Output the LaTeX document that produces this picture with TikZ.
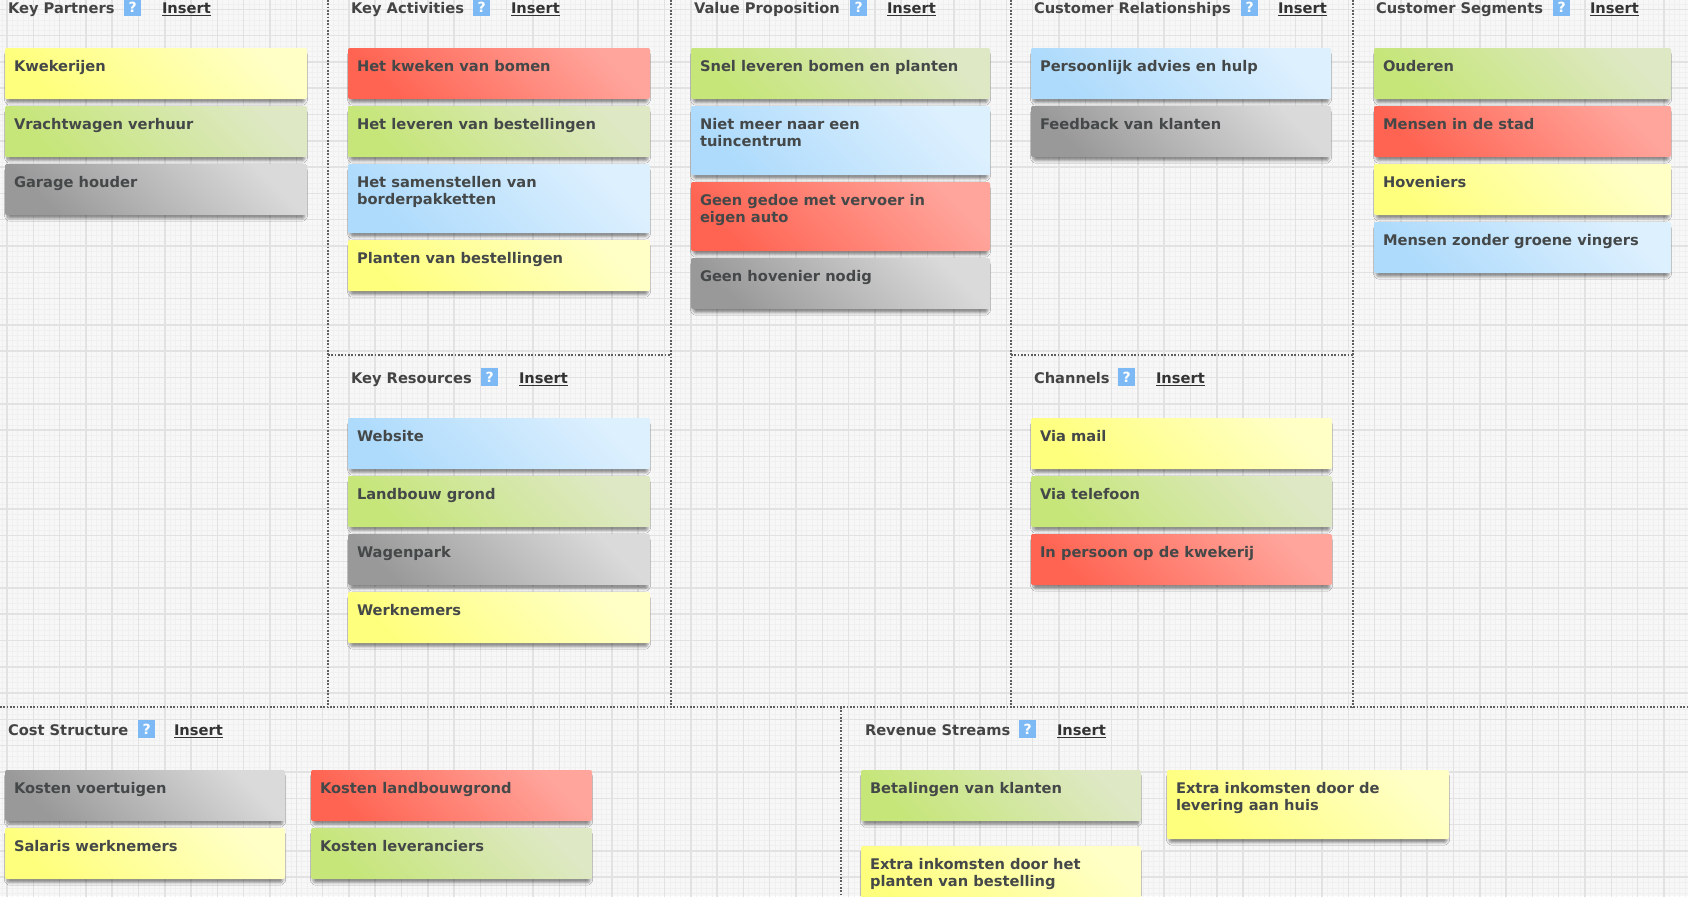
\documentclass[tikz,border=0pt]{standalone}
\usepackage{fontspec}
\setmainfont{DejaVu Sans}
\usetikzlibrary{shadows.blur}
\definecolor{bgc}{HTML}{F7F7F7}
\definecolor{minorc}{HTML}{F0F0F0}
\definecolor{majorc}{HTML}{E2E2E2}
\definecolor{sepc}{HTML}{5E5E5E}
\definecolor{txtc}{HTML}{454848}
\definecolor{ttlc}{HTML}{444444}
\definecolor{insc}{HTML}{333333}
\definecolor{qblue}{HTML}{7DBAF5}
\definecolor{yelD}{HTML}{FFFF7E}
\definecolor{yelL}{HTML}{FFFFC6}
\definecolor{grnD}{HTML}{C6E67A}
\definecolor{grnL}{HTML}{DEE8C4}
\definecolor{redD}{HTML}{FF6452}
\definecolor{redL}{HTML}{FFA59C}
\definecolor{gryD}{HTML}{999999}
\definecolor{gryL}{HTML}{DADADA}
\definecolor{bluD}{HTML}{AEDBFC}
\definecolor{bluL}{HTML}{DDF0FE}
\newcommand\card[7]{%
  \node[#6,minimum width=#4*0.75pt,minimum height=#5*0.75pt] (#1) at (#2,#3) {};
  \node[cardtext] (#1t) at ([shift={(9,12.3)}]#1.north west) {#7};}
\newcommand\header[8]{%
  \node[title] (#1T) at (#2,#3) {#4};
  \node[qbox] (#1Q) at (#5,#3-15.3) {?};
  \node[ins] (#1I) at (#6,#3) {\underline{Insert}};}
\begin{document}
\begin{tikzpicture}[x=0.75pt,y=-0.75pt,
  cardbox/.style={rectangle, rounded corners=1.5pt, inner sep=0pt, outer sep=0pt, anchor=north west,
    blur shadow={shadow xshift=0pt, shadow yshift=-3pt, shadow scale=0.985, shadow blur radius=2pt, shadow opacity=45}},
  yel/.style={cardbox, top color=yelD, bottom color=yelL, shading angle=135},
  grn/.style={cardbox, top color=grnD, bottom color=grnL, shading angle=135},
  red/.style={cardbox, top color=redD, bottom color=redL, shading angle=135},
  gry/.style={cardbox, top color=gryD, bottom color=gryL, shading angle=135},
  blu/.style={cardbox, top color=bluD, bottom color=bluL, shading angle=135},
  cardtext/.style={anchor=north west, inner sep=0pt, outer sep=0pt, align=left, text=txtc,
    font=\fontsize{11}{13.1}\selectfont\bfseries},
  title/.style={anchor=base west, inner sep=0pt, outer sep=0pt, text=ttlc, font=\fontsize{11}{13}\selectfont\bfseries},
  qbox/.style={anchor=north west, fill=qblue, minimum width=12.75pt, minimum height=13.5pt, inner sep=0pt,
    text=white, font=\fontsize{10.5}{12}\selectfont\bfseries},
  ins/.style={anchor=base west, inner sep=0pt, outer sep=0pt, text=insc, font=\fontsize{11}{13}\selectfont\bfseries},
  sep/.style={draw=sepc, line width=1.2pt, dash pattern=on 1.2pt off 1.3pt},
]
\useasboundingbox (0,0) rectangle (1688,896);
\clip (0,0) rectangle (1688,896);
\fill[bgc] (0,0) rectangle (1688,896);
\begin{scope}[shift={(7,9.3)}]
  \draw[minorc, line width=0.35pt] (-30,900) grid[xstep=3.945pt,ystep=3.945pt] (1700,-30);
  \draw[majorc, line width=1.1pt] (-30,900) grid[xstep=19.725pt,ystep=19.725pt] (1700,-30);
\end{scope}
% separators
\draw[sep] (328,0) -- (328,707);
\draw[sep] (671,0) -- (671,707);
\draw[sep] (1011,0) -- (1011,707);
\draw[sep] (1353,0) -- (1353,707);
\draw[sep] (328,355) -- (671,355);
\draw[sep] (1011,355) -- (1353,355);
\draw[sep] (0,707) -- (1688,707);
\draw[sep] (841,707) -- (841,896);
% headers
\header{kp}{8}{13.3}{Key Partners}{124}{162}{}{}
\header{ka}{351}{13.3}{Key Activities}{473}{511}{}{}
\header{vp}{694}{13.3}{Value Proposition}{850}{887}{}{}
\header{cr}{1034}{13.3}{Customer Relationships}{1241}{1278}{}{}
\header{cs}{1376}{13.3}{Customer Segments}{1553}{1590}{}{}
\header{kr}{351}{383}{Key Resources}{481}{519}{}{}
\header{ch}{1034}{383}{Channels}{1118}{1156}{}{}
\header{co}{8}{735}{Cost Structure}{138}{174}{}{}
\header{rs}{865}{735}{Revenue Streams}{1019}{1057}{}{}
% Key Partners
\card{kp1}{5}{48}{302}{51}{yel}{Kwekerijen}
\card{kp2}{5}{106}{302}{51}{grn}{Vrachtwagen verhuur}
\card{kp3}{5}{164}{302}{51}{gry}{Garage houder}
% Key Activities
\card{ka1}{348}{48}{302}{51}{red}{Het kweken van bomen}
\card{ka2}{348}{106}{302}{51}{grn}{Het leveren van bestellingen}
\card{ka3}{348}{164}{302}{69}{blu}{Het samenstellen van\\borderpakketten}
\card{ka4}{348}{240}{302}{51}{yel}{Planten van bestellingen}
% Value Proposition
\card{vp1}{691}{48}{299}{51}{grn}{Snel leveren bomen en planten}
\card{vp2}{691}{106}{299}{69}{blu}{Niet meer naar een\\tuincentrum}
\card{vp3}{691}{182}{299}{69}{red}{Geen gedoe met vervoer in\\eigen auto}
\card{vp4}{691}{258}{299}{51}{gry}{Geen hovenier nodig}
% Customer Relationships
\card{cr1}{1031}{48}{300}{51}{blu}{Persoonlijk advies en hulp}
\card{cr2}{1031}{106}{300}{51}{gry}{Feedback van klanten}
% Customer Segments
\card{cs1}{1374}{48}{297}{51}{grn}{Ouderen}
\card{cs2}{1374}{106}{297}{51}{red}{Mensen in de stad}
\card{cs3}{1374}{164}{297}{51}{yel}{Hoveniers}
\card{cs4}{1374}{222}{297}{51}{blu}{Mensen zonder groene vingers}
% Key Resources
\card{kr1}{348}{418}{302}{51}{blu}{Website}
\card{kr2}{348}{476}{302}{51}{grn}{Landbouw grond}
\card{kr3}{348}{534}{302}{51}{gry}{Wagenpark}
\card{kr4}{348}{592}{302}{51}{yel}{Werknemers}
% Channels
\card{ch1}{1031}{418}{301}{51}{yel}{Via mail}
\card{ch2}{1031}{476}{301}{51}{grn}{Via telefoon}
\card{ch3}{1031}{534}{301}{51}{red}{In persoon op de kwekerij}
% Cost Structure
\card{co1}{5}{770}{280}{51}{gry}{Kosten voertuigen}
\card{co2}{311}{770}{281}{51}{red}{Kosten landbouwgrond}
\card{co3}{5}{828}{280}{51}{yel}{Salaris werknemers}
\card{co4}{311}{828}{281}{51}{grn}{Kosten leveranciers}
% Revenue Streams
\card{rs1}{861}{770}{280}{51}{grn}{Betalingen van klanten}
\card{rs2}{1167}{770}{282}{69}{yel}{Extra inkomsten door de\\levering aan huis}
\card{rs3}{861}{846}{280}{69}{yel}{Extra inkomsten door het\\planten van bestelling}
\end{tikzpicture}
\end{document}
